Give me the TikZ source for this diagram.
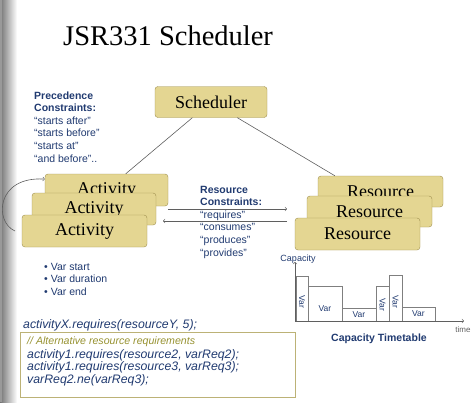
\documentclass[tikz,border=0pt]{standalone}
\usepackage{fontspec}
\setmainfont{Liberation Serif}
\setsansfont{Liberation Sans}
\usetikzlibrary{arrows, shapes.geometric}
\definecolor{boxfill}{RGB}{228,214,146}
\definecolor{boxline}{RGB}{158,143,78}
\definecolor{navy}{RGB}{32,58,112}
\definecolor{olivetxt}{RGB}{150,145,48}
\definecolor{codeline}{RGB}{188,178,118}
\definecolor{linegray}{RGB}{95,95,95}
\tikzstyle{block} = [rectangle, rounded corners=3pt, 
minimum width=124pt, 
minimum height=32pt,
inner sep=0pt,
text centered, 
draw=boxline, 
fill=boxfill,
font=\fontsize{18}{18}\selectfont]
% base of a multi-line node = baseline of its last line
\tikzstyle{bluetxt} = [anchor=base west, align=left, inner sep=0pt,
text=navy,
font=\sffamily\fontsize{10.5}{12.6}\selectfont]
\tikzstyle{codetxt} = [anchor=base west, align=left, inner sep=0pt,
text=navy,
font=\sffamily\itshape\fontsize{12.3}{12.7}\selectfont]
\tikzstyle{bar} = [draw=linegray!80, fill=white, line width=0.6pt]
\tikzstyle{varlbl} = [text=navy, inner sep=0pt, font=\sffamily\fontsize{8.5}{8.5}\selectfont]
\tikzstyle{arrow} = [linegray, line width=0.6pt, ->, >=to]

\begin{document}
\begin{tikzpicture}[x=1pt, y=-1pt]
	\useasboundingbox (0,0) rectangle (474,402);
	% slide edge
	\shade[left color=black!55, right color=white] (0,0) rectangle (17,402);
	\fill[black!40] (0,0) rectangle (2,402);
	
	\node (title) [anchor=base west, inner sep=0pt, font=\fontsize{28.5}{28.5}\selectfont] at (63,45) {JSR331 Scheduler};
	
	\node (sched) [block, minimum width=112pt, minimum height=31pt] at (211,102) {Scheduler};
	
	\node (act1) [block, minimum width=123pt] at (106.5,190) {Activity};
	\node (act2) [block] at (94,209) {Activity};
	\node (act3) [block, minimum width=125pt] at (84.5,231) {Activity};
	
	\node (res1) [block, minimum width=125pt, minimum height=31pt] at (380.5,191.5) {Resource};
	\node (res2) [block, minimum width=125pt, minimum height=31pt] at (369.5,211.5) {Resource};
	\node (res3) [block, minimum width=125pt] at (357.5,234) {Resource};
	
	\node (prec) [bluetxt] at (34,162) {\textbf{Precedence}\\\textbf{Constraints:}\\“starts after”\\“starts before”\\“starts at”\\“and before”..};
	\node (rescon) [bluetxt] at (200,256) {\textbf{Resource}\\\textbf{Constraints:}\\“requires”\\“consumes”\\“produces”\\“provides”};
	\node (vars) [bluetxt] at (44,295.5) {\textbullet\ Var start\\\textbullet\ Var duration\\\textbullet\ Var end};
	
	\draw [linegray, line width=0.6pt] (sched) -- (act1);
	\draw [linegray, line width=0.6pt] (sched) -- (res1.161);
	
	% loop between activities
	\coordinate (loopS) at (15,231);
	\draw [arrow] (loopS) .. controls (-6,222) and (-4,176) .. (act1.170);
	
	% requires / provides
	\coordinate (reqA) at (168,209);
	\coordinate (reqR) at (287,209);
	\coordinate (proR) at (287,221);
	\coordinate (proA) at (163,221);
	\draw [arrow] (reqA) -- (reqR);
	\draw [arrow] (proR) -- (proA);
	
	% capacity timetable
	\coordinate (orig) at (295,321);
	\coordinate (ytop) at (295,262);
	\coordinate (xend) at (464,321);
	\draw [bar] (296,276) rectangle (308,321);
	\draw [bar] (308,286) rectangle (342,321);
	\draw [bar] (342,308) rectangle (376,321);
	\draw [bar] (376,286) rectangle (389,321);
	\draw [bar] (389,275) rectangle (402,321);
	\draw [bar] (402,307) rectangle (435,321);
	\node (v1) [varlbl, rotate=-90] at (302,302) {Var};
	\node (v2) [varlbl] at (325,309) {Var};
	\node (v3) [varlbl] at (359,315) {Var};
	\node (v4) [varlbl, rotate=-90] at (382.5,305) {Var};
	\node (v5) [varlbl, rotate=-90] at (395.5,302) {Var};
	\node (v6) [varlbl] at (418.5,314) {Var};
	\draw [arrow] (orig) -- (ytop);
	\draw [arrow] (orig) -- (xend);
	\node (cap) [varlbl, font=\sffamily\fontsize{9}{9}\selectfont] at (298,259) {Capacity};
	\node (time) [varlbl, text=linegray, font=\sffamily\fontsize{8}{8}\selectfont] at (463,330) {time};
	\node (captt) [bluetxt, anchor=base, font=\sffamily\bfseries\fontsize{10.5}{12}\selectfont] at (379,341) {Capacity Timetable};
	
	% code
	\node (code1) [codetxt] at (23,328) {activityX.requires(resourceY, 5);};
	\node (codebox) [draw=codeline, line width=0.8pt, anchor=north west, minimum width=275pt, minimum height=65pt, inner sep=0pt] at (20,332) {};
	\node (code2) [codetxt] at (27,383.5) {{\color{olivetxt}\fontsize{10.6}{12}\selectfont // Alternative resource requirements}\\[1.3pt]activity1.requires(resource2, varReq2);\\activity1.requires(resource3, varReq3);\\varReq2.ne(varReq3);};
	
\end{tikzpicture}
\end{document}
